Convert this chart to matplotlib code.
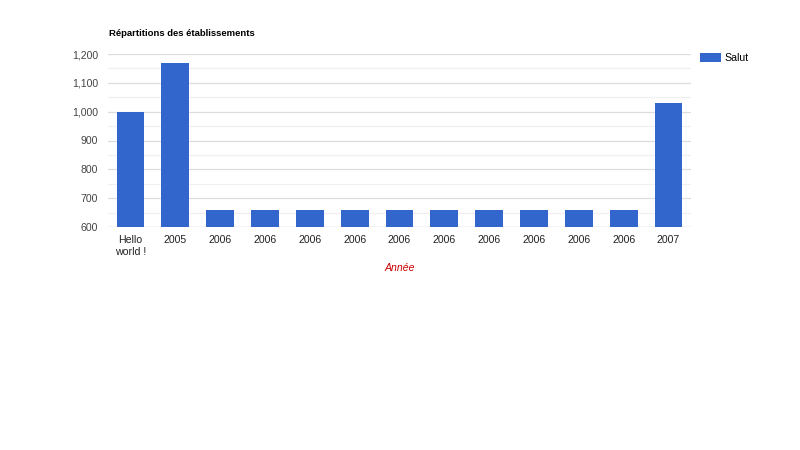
import matplotlib
matplotlib.use("Agg")
import matplotlib.pyplot as plt
from matplotlib.ticker import MultipleLocator, FuncFormatter

categories = ["Hello\nworld !", "2005", "2006", "2006", "2006", "2006", "2006",
              "2006", "2006", "2006", "2006", "2006", "2007"]
values = [1000, 1170, 660, 660, 660, 660, 660, 660, 660, 660, 660, 660, 1030]
series_name = "Salut"
title = "Répartitions des établissements"
x_label = "Année"

plt.rcParams['font.family'] = ['Liberation Sans', 'DejaVu Sans']

fig = plt.figure(figsize=(8, 4.5), dpi=100)
ax = fig.add_axes([108 / 800, 1 - 227 / 450, (691 - 108) / 800, (227 - 54) / 450])

x = list(range(len(categories)))
ax.bar(x, [v - 600 for v in values], bottom=600, width=0.62, color="#3366cc",
       label=series_name, zorder=3)

ax.set_xlim(-0.5, len(categories) - 0.5)
ax.set_ylim(600, 1200)
ax.yaxis.set_major_locator(MultipleLocator(100))
ax.yaxis.set_minor_locator(MultipleLocator(50))
ax.yaxis.set_major_formatter(FuncFormatter(lambda v, p: f"{int(v):,}"))
ax.grid(axis="y", which="major", color="#dddddd", linewidth=0.9, zorder=0)
ax.grid(axis="y", which="minor", color="#f0f0f0", linewidth=0.9, zorder=0)
ax.set_xticks(x)
ax.set_xticklabels(categories, fontsize=7.6, color="#222222", linespacing=1.35)
ax.tick_params(axis="y", labelsize=7.6, labelcolor="#444444", length=0, pad=7)
ax.tick_params(axis="x", length=0, pad=5.5)
ax.tick_params(which="minor", length=0)
for s in ax.spines.values():
    s.set_visible(False)
ax.axhline(600, color="#cccccc", linewidth=0.9, zorder=2)

fig.text(109 / 800, 1 - 34 / 450, title, fontsize=6.8, fontweight="bold",
         color="#000000", va="center", ha="left")
fig.text(400 / 800, 1 - 268 / 450, x_label, fontsize=7.6, fontstyle="italic",
         color="#cc0000", va="center", ha="center")

h, l = ax.get_legend_handles_labels()
fig.legend(h, l, loc="center left", bbox_to_anchor=(700 / 800, 1 - 58 / 450),
           frameon=False, fontsize=7.6, handlelength=2.0, handleheight=1.0,
           handletextpad=0.3, borderaxespad=0, borderpad=0)

fig.savefig("out.png", dpi=100)
